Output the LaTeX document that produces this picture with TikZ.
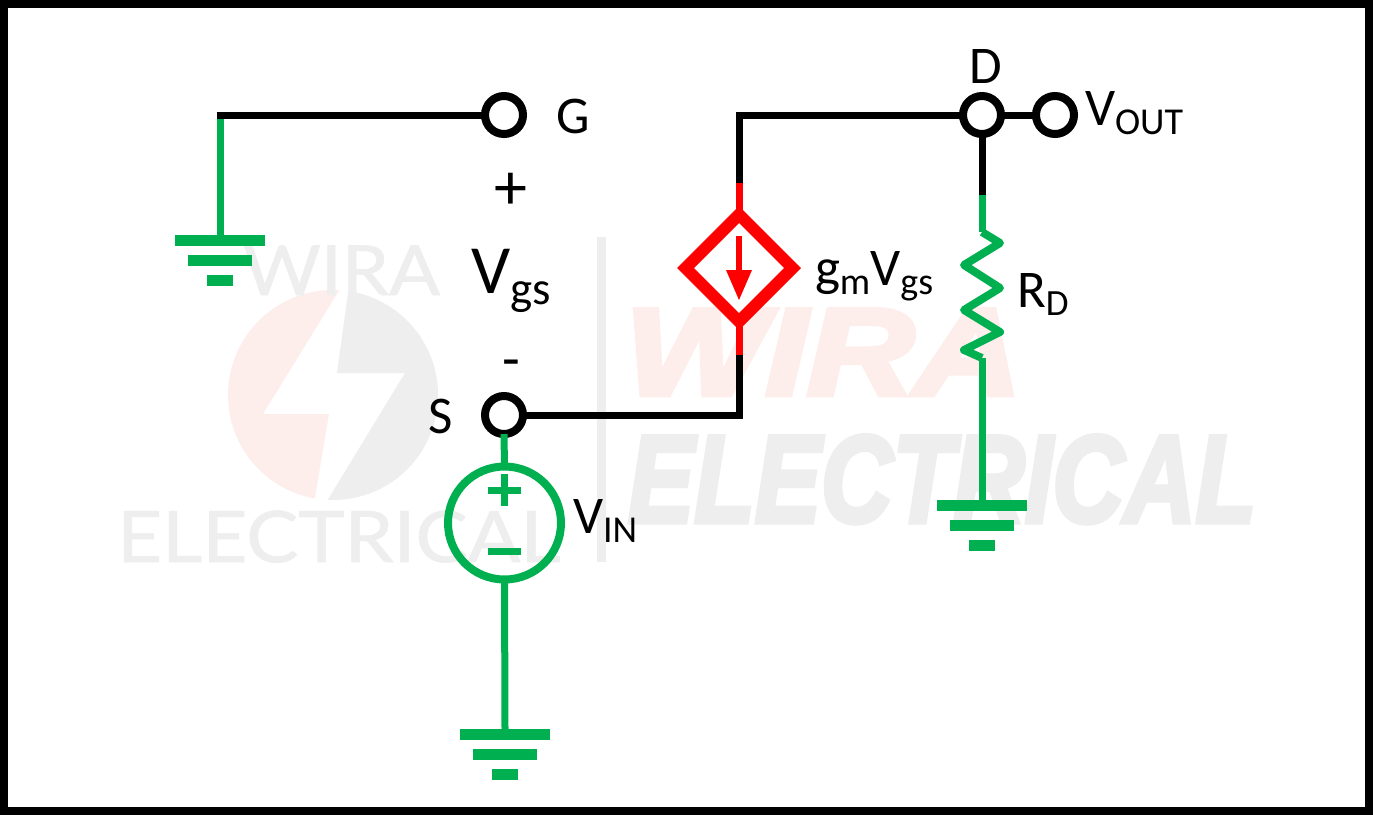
\documentclass[tikz,border=0pt]{standalone}
\usepackage{fontspec}
\setmainfont{Carlito}
\newfontfamily\wmthin[FakeBold=1]{Lato}
\newfontfamily\wmheavy[FakeBold=4]{Liberation Sans Bold Italic}
\usetikzlibrary{shapes.geometric}
\definecolor{wgreen}{RGB}{0,176,80}
\definecolor{wred}{RGB}{255,0,0}
\definecolor{wmgray}{RGB}{238,238,238}
\definecolor{wmpink}{RGB}{253,238,236}
\newcommand{\fs}[1]{\fontsize{#1}{#1}\selectfont}
\newcommand{\subt}[2]{{\fs{#1}\raisebox{-0.24em}{#2}}}
\tikzset{
  every node/.style={inner sep=0pt,outer sep=0pt},
  wire/.style={line width=7pt,line cap=butt,line join=miter,black},
  gwire/.style={wire,wgreen},
  rwire/.style={wire,wred},
  term/.style={circle,draw=black,line width=8pt,fill=white,minimum size=38pt},
  gbar/.style={rectangle,fill=wgreen,minimum height=11pt},
  lab/.style={anchor=base west,text=black,font=\fs{53}},
  wmthinlab/.style={anchor=base west,text=wmgray,transform shape},
  wmheavylab/.style={anchor=base west,transform shape}
}
\begin{document}
\begin{tikzpicture}[x=1pt,y=-1pt]
\useasboundingbox (0,0) rectangle (1373,815);
\fill[white] (0,0) rectangle (1373,815);
% watermark
\begin{scope}
\clip (333,395) circle (105);
\fill[wmpink] (200,280) -- (340,280) -- (340,289) -- (263,414) -- (329,414) -- (315,497) -- (315,510) -- (200,510) -- cycle;
\fill[wmgray] (348,280) -- (348,293) -- (337,373) -- (405,373) -- (327,501) -- (327,510) -- (450,510) -- (450,280) -- cycle;
\end{scope}
\fill[wmgray] (597,237) rectangle (606,562);
\begin{scope}[xscale=1.09]
\node[wmthinlab,font=\wmthin\fs{69}] (wmA) at (243/1.09,295) {WIRA};
\end{scope}
\begin{scope}[xscale=1.10]
\node[wmthinlab,font=\wmthin\fs{71}] (wmB) at (117/1.10,562) {ELECTRICAL};
\end{scope}
\begin{scope}[xscale=1.2]
\node[wmheavylab,text=wmpink,font=\wmheavy\fs{124}] (wmC) at (625/1.2,395) {WIRA};
\end{scope}
\begin{scope}[xscale=0.8]
\node[wmheavylab,text=wmgray,font=\wmheavy\fs{124}] (wmD) at (628/0.8,522) {ELECTRICAL};
\end{scope}
% frame
\draw[black,line width=8.5pt] (4,4) rectangle (1369,811);
% terminals
\node[term] (G) at (504,115) {};
\node[term] (S) at (504,415) {};
\node[term] (D) at (982,115) {};
\node[term] (O) at (1055,115) {};
% grounds
\foreach \n/\x/\y in {a/220/235,b/505/729,c/982/500}{
  \node[gbar,anchor=north,minimum width=90pt] (top\n) at (\x,\y) {};
  \node[gbar,anchor=north,minimum width=64pt] (mid\n) at (\x,\y+20) {};
  \node[gbar,anchor=north,minimum width=26pt] (low\n) at (\x,\y+40) {};
}
% junction coordinates
\coordinate (ga) at (220,115);
\coordinate (ta) at (739,115);
\coordinate (tb) at (739,183);
\coordinate (bb) at (739,355);
\coordinate (bc) at (739,415);
\coordinate (ra) at (982,195);
\coordinate (rb) at (982,232);
\coordinate (rc) at (982,358);
% black wires
\draw[gwire] (ga) -- (topa.north);
\draw[wire] (216.5,115) -- (G.west);
\draw[wire] (D.west) -- (ta) -- (tb);
\draw[wire] (S.east) -- (bc) -- (bb);
\draw[wire] (D.east) -- (O.west);
\draw[wire] (D.south) -- (ra);
% dependent source
\node[diamond,aspect=1,draw=wred,line width=12pt,minimum width=107pt,minimum height=107pt,fill=none] (DS) at (739,268) {};
\draw[rwire] (tb) -- (DS.north);
\draw[rwire] (DS.south) -- (bb);
\coordinate (aa) at (739,236);
\coordinate (ah) at (739,272);
\coordinate (ae) at (739,300);
\draw[wred,line width=5.5pt] (aa) -- (ah);
\fill[wred] (726,270) -- (752,270) -- (ae) -- cycle;
% resistor
\draw[gwire] (ra) -- (rb);
\draw[gwire,line width=8pt,line join=round] (rb) -- (1000,243) -- (964,265) -- (1000,288) -- (964,310) -- (1000,332) -- (964,350) -- (rc);
\draw[gwire] (rc) -- (topc.north);
% input source
\node[circle,draw=wgreen,line width=8pt,minimum size=113pt,fill=none] (VS) at (504.5,523) {};
\draw[gwire] (S.south) -- (VS.north);
\draw[gwire] (VS.south) -- (topb.north);
\coordinate (pt) at (504.5,474);
\coordinate (pb) at (504.5,506);
\coordinate (pl) at (488,490);
\coordinate (pr) at (521,490);
\coordinate (ml) at (488,551);
\coordinate (mr) at (521,551);
\draw[gwire] (pt) -- (pb);
\draw[gwire] (pl) -- (pr);
\draw[gwire] (ml) -- (mr);
% labels
\node[lab] (tG) at (556,133) {G};
\node[lab] (tS) at (428,433) {S};
\node[lab] (tD) at (969,83) {D};
\node[lab,font=\fs{66}] (tP) at (494,209) {+};
\node[lab,font=\fs{58}] (tM) at (502,378) {-};
\node[lab,font=\fs{69}] (tV) at (471,293) {V\subt{47}{gs}};
\node[lab] (tO) at (1085,125) {V\subt{38}{OUT}};
\node[lab] (tI) at (573,533) {V\subt{38}{IN}};
\node[lab] (tR) at (1017,307) {R\subt{37}{D}};
\node[lab] (tM2) at (815,285) {g\subt{38}{m}V\subt{38}{gs}};
\end{tikzpicture}
\end{document}
